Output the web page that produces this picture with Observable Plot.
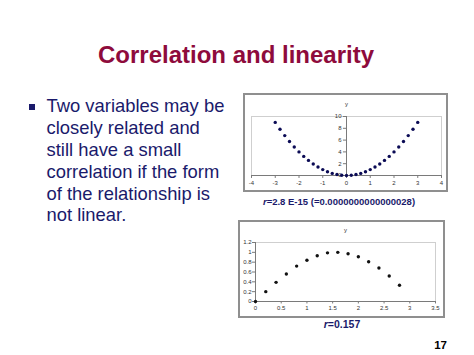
<!DOCTYPE html>
<html>
<head>
<meta charset="utf-8">
<script src="https://cdn.jsdelivr.net/npm/d3@7"></script>
<script src="https://cdn.jsdelivr.net/npm/@observablehq/plot@0.6"></script>
<style>
  body { margin: 0; background: #fff; }
  #slide { position: relative; width: 474px; height: 355px; overflow: hidden; background: #fff;
           font-family: Arial, "Liberation Sans", sans-serif; }
  .title { position: absolute; left: 0; top: 43px; width: 472px; text-align: center;
           font-size: 24px; line-height: 24px; font-weight: bold; color: #8e0b3c; white-space: nowrap; }
  .mark { position: absolute; left: 29px; top: 104px; width: 6px; height: 6px; background: #1a1a6b; }
  .bullet { position: absolute; left: 46.5px; top: 95.4px; font-size: 18.4px; line-height: 21.8px;
            color: #1a1a6b; white-space: nowrap; }
  .box { position: absolute; border: 2px solid #8f8f8f; background: #fff; }
  .box svg { display: block; }
  .cap { position: absolute; text-align: center; font-weight: bold; color: #1a1a6b;
         line-height: 12px; white-space: nowrap; }
  .page { position: absolute; right: 27px; top: 339px; font-size: 11.5px; font-weight: bold; color: #000; }
</style>
</head>
<body>
<div id="slide">
  <div class="title">Correlation and linearity</div>
  <div class="mark"></div>
  <div class="bullet">Two variables may be<br>closely related and<br>still have a small<br>correlation if the form<br>of the relationship is<br>not linear.</div>
  <div id="c1" class="box" style="left:243px; top:93px;"></div>
  <div class="cap" style="left:219px; top:196px; width:240px; font-size:9.5px;"><i>r</i>=2.8 E-15 (=0.0000000000000028)</div>
  <div id="c2" class="box" style="left:238px; top:220px;"></div>
  <div class="cap" style="left:292px; top:318px; width:100px; font-size:10.5px;"><i>r</i>=0.157</div>
  <div class="page">17</div>
</div>
<script>
// Chart 1: y = x^2 style scatter
const xs1 = [-3,-2.8,-2.6,-2.4,-2.2,-2,-1.8,-1.6,-1.4,-1.2,-1,-0.8,-0.6,-0.4,-0.2,0,0.2,0.4,0.6,0.8,1,1.2,1.4,1.6,1.8,2,2.2,2.4,2.6,2.8,3];
const ys1 = [9,7.84,6.76,5.76,4.84,4,3.24,2.56,1.96,1.44,1,0.64,0.36,0.16,0.04,0,0.04,0.16,0.36,0.64,1,1.44,1.96,2.56,3.24,4,4.84,5.76,6.76,7.84,9];
const xTicks1 = [-4,-3,-2,-1,0,1,2,3,4];
const yTicks1 = [0,2,4,6,8,10];

// Chart 2: arch-shaped scatter
const xs2 = [0,0.2,0.4,0.6,0.8,1,1.2,1.4,1.6,1.8,2,2.2,2.4,2.6,2.8];
const ys2 = [0,0.2,0.39,0.56,0.72,0.84,0.93,0.99,1.0,0.97,0.91,0.81,0.68,0.52,0.33];
const xTicks2 = [0,0.5,1,1.5,2,2.5,3,3.5];
const yTicks2 = [0,0.2,0.4,0.6,0.8,1,1.2];

const yTitle = "y";

const pts1 = xs1.map((x, i) => ({x, y: ys1[i]}));
const pts2 = xs2.map((x, i) => ({x, y: ys2[i]}));

const axisColor = "#7a7a7a";
const frameColor = "#cfcfcf";
const labelColor = "#333";
const fs = 6;
const style = {fontFamily: "Arial, 'Liberation Sans', sans-serif", background: "white", overflow: "visible"};

const chart1 = Plot.plot({
  width: 201, height: 95,
  marginLeft: 6, marginRight: 5, marginTop: 21, marginBottom: 15,
  x: {domain: [-4, 4], axis: null},
  y: {domain: [0, 10], axis: null},
  style,
  marks: [
    Plot.frame({stroke: frameColor}),
    Plot.ruleY([0], {stroke: axisColor}),
    Plot.ruleX([0], {stroke: axisColor}),
    Plot.ruleX(xTicks1, {x: d => d, y1: 0, y2: -0.5, stroke: axisColor}),
    Plot.ruleY(yTicks1, {y: d => d, x1: -0.13, x2: 0, stroke: axisColor}),
    Plot.text(xTicks1, {x: d => d, y: 0, dy: 8, text: d => String(d), fontSize: fs, fill: labelColor}),
    Plot.text(yTicks1, {x: 0, y: d => d, dx: -5, textAnchor: "end", text: d => String(d), fontSize: fs, fill: labelColor}),
    Plot.text([yTitle], {frameAnchor: "top", dy: -15, text: d => d, fontSize: fs, fill: labelColor}),
    Plot.dot(pts1, {x: "x", y: "y", r: 1.7, fill: "#0b0b55", stroke: null})
  ]
});
document.getElementById("c1").append(chart1);

const chart2 = Plot.plot({
  width: 203, height: 94,
  marginLeft: 15, marginRight: 8, marginTop: 20, marginBottom: 15,
  x: {domain: [0, 3.5], axis: null},
  y: {domain: [0, 1.2], axis: null},
  style,
  marks: [
    Plot.frame({stroke: frameColor}),
    Plot.ruleY([0], {stroke: axisColor}),
    Plot.ruleX([0], {stroke: axisColor}),
    Plot.ruleX(xTicks2, {x: d => d, y1: 0, y2: -0.05, stroke: axisColor}),
    Plot.ruleY(yTicks2, {y: d => d, x1: -0.06, x2: 0, stroke: axisColor}),
    Plot.text(xTicks2, {x: d => d, y: 0, dy: 7, text: d => String(d), fontSize: fs, fill: labelColor}),
    Plot.text(yTicks2, {x: 0, y: d => d, dx: -4, textAnchor: "end", text: d => String(d), fontSize: fs, fill: labelColor}),
    Plot.text([yTitle], {frameAnchor: "top", dy: -15, text: d => d, fontSize: fs, fill: labelColor}),
    Plot.dot(pts2, {x: "x", y: "y", r: 1.7, fill: "#111", stroke: null})
  ]
});
document.getElementById("c2").append(chart2);
</script>
</body>
</html>
